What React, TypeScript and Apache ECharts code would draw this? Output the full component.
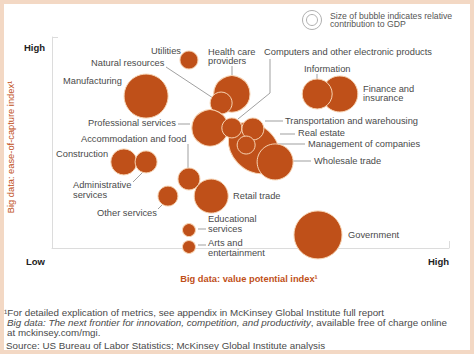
import React, { useEffect, useRef } from "react";
import * as echarts from "echarts";

// ---- Data ----
// x: value potential index (0 = Low, 100 = High)
// y: ease-of-capture index (0 = Low, 100 = High)
// gdpContribution: relative contribution to GDP (bubble area, relative units)
const categories = [
  "Manufacturing",
  "Utilities",
  "Health care providers",
  "Natural resources",
  "Finance and insurance",
  "Information",
  "Professional services",
  "Real estate",
  "Computers and other electronic products",
  "Transportation and warehousing",
  "Management of companies",
  "Wholesale trade",
  "Construction",
  "Administrative services",
  "Accommodation and food",
  "Other services",
  "Retail trade",
  "Educational services",
  "Arts and entertainment",
  "Government",
];
const valuePotential = [23.7, 34.5, 45.3, 42.6, 72.5, 66.8, 39.8, 50.9, 45.3, 50.6, 48.9, 56.2, 18.1, 23.7, 34.5, 29.2, 40.1, 34.5, 34.5, 67.0];
const easeOfCapture = [72.0, 89.1, 73.0, 68.7, 73.0, 73.0, 56.9, 47.4, 56.9, 56.4, 48.8, 40.8, 40.8, 40.8, 32.7, 24.6, 24.6, 8.5, 0.5, 6.2];
const gdpContribution = [484, 81, 330, 121, 324, 225, 330, 640, 100, 121, 81, 324, 169, 121, 121, 100, 289, 42, 42, 576];

const FONT = '"Liberation Sans", Arial, Helvetica, sans-serif';
const TXT = "#4a4a4a";
const ORANGE = "#bf5019";
const LEADER = "#777";

function label(text: string, x: number, y: number, extra: any = {}) {
  return {
    type: "text",
    x,
    y,
    silent: true,
    style: {
      text,
      fill: TXT,
      fontSize: 9.3,
      fontFamily: FONT,
      align: "left",
      verticalAlign: "middle",
      lineHeight: 9.5,
      ...extra,
    },
  };
}
function lead(points: number[][]) {
  return {
    type: "polyline",
    silent: true,
    shape: { points },
    style: { stroke: LEADER, lineWidth: 0.7, fill: null },
  };
}

export default function App() {
  const ref = useRef<HTMLDivElement>(null);
  useEffect(() => {
    if (!ref.current) return;
    const chart = echarts.init(ref.current, null, { renderer: "svg" });

    const data = categories.map((name, i) => {
      const d = 2 * Math.sqrt(gdpContribution[i]);
      const item: any = { name, value: [valuePotential[i], easeOfCapture[i]], symbolSize: d };
      if (name === "Real estate") {
        item.symbolSize = [d * 1.14, d / 1.14];
        item.symbolRotate = -45;
      }
      return item;
    });

    const FN = 9.8;
    const graphic: any[] = [
      // peach frame
      {
        type: "rect",
        silent: true,
        shape: { x: 0, y: 0, width: 474, height: 354 },
        style: { fill: null, stroke: "#f3d8c4", lineWidth: 8 },
        z: 100,
      },
      // axis end caps
      { type: "line", silent: true, shape: { x1: 52, y1: 37.5, x2: 58, y2: 37.5 }, style: { stroke: "#dcdcdc", lineWidth: 1 } },
      { type: "line", silent: true, shape: { x1: 449.5, y1: 248, x2: 449.5, y2: 241 }, style: { stroke: "#dcdcdc", lineWidth: 1 } },
      // legend
      { type: "circle", silent: true, shape: { cx: 312, cy: 20, r: 9.5 }, style: { fill: null, stroke: "#9a9a9a", lineWidth: 0.8 } },
      { type: "circle", silent: true, shape: { cx: 312, cy: 20, r: 5.5 }, style: { fill: null, stroke: "#9a9a9a", lineWidth: 0.8 } },
      label("Size of bubble indicates relative\ncontribution to GDP", 330, 20, { fontSize: 8.7, lineHeight: 8.5, fill: "#555" }),
      // axis ends
      label("High", 24, 47, { fontWeight: "bold", fill: "#222", fontSize: 9.5 }),
      label("Low", 26, 261, { fontWeight: "bold", fill: "#222", fontSize: 9.5 }),
      label("High", 428, 261, { fontWeight: "bold", fill: "#222", fontSize: 9.5 }),
      // axis titles
      label("Big data: value potential index\u00b9", 249, 279, { fontWeight: "bold", fill: ORANGE, align: "center" }),
      {
        type: "text",
        silent: true,
        x: 11,
        y: 147,
        rotation: Math.PI / 2,
        style: {
          text: "Big data: ease-of-capture index\u00b9",
          fill: ORANGE,
          fontSize: 9.3,
          fontFamily: FONT,
          align: "center",
          verticalAlign: "middle",
        },
      },
      // bubble labels
      label("Utilities", 181, 51, { align: "right" }),
      label("Health care\nproviders", 208, 56.5),
      lead([[232, 66], [232, 76]]),
      label("Computers and other electronic products", 264, 52),
      lead([[270, 59], [270, 93], [238, 119]]),
      label("Natural resources", 91, 63),
      lead([[166, 67], [213, 98]]),
      label("Manufacturing", 63, 81),
      label("Information", 304, 69),
      lead([[317, 74], [317, 80]]),
      label("Finance and\ninsurance", 363, 93.5),
      label("Professional services", 88, 123),
      lead([[178, 124], [190, 124]]),
      label("Transportation and warehousing", 285, 121),
      lead([[265, 121], [283, 121]]),
      label("Real estate", 298, 133),
      lead([[280, 134], [295, 134]]),
      label("Management of companies", 308, 144),
      lead([[256, 144], [305, 144]]),
      label("Wholesale trade", 314, 161),
      lead([[293, 161], [311, 161]]),
      label("Accommodation and food", 81, 139),
      lead([[188, 144], [188, 169]]),
      label("Construction", 56, 154),
      label("Administrative\nservices", 73, 190),
      lead([[133, 182], [143, 172]]),
      label("Other services", 97, 213),
      lead([[158, 209], [163, 204]]),
      label("Retail trade", 233, 196),
      label("Educational\nservices", 208, 224),
      lead([[198, 229], [206, 229]]),
      label("Arts and\nentertainment", 208, 248),
      lead([[198, 245], [206, 245]]),
      label("Government", 348, 235),
      // footnotes
      label("\u00b9For detailed explication of metrics, see appendix in McKinsey Global Institute full report", 4, 312, { fontSize: FN }),
      {
        type: "text",
        silent: true,
        x: 7,
        y: 322,
        style: {
          text: "{i|Big data: The next frontier for innovation, competition, and productivity}{n|, available free of charge online}",
          verticalAlign: "middle",
          fontFamily: FONT,
          fontSize: FN,
          fill: TXT,
          rich: {
            i: { fontStyle: "italic", fontSize: FN, fontFamily: FONT, fill: TXT },
            n: { fontSize: FN, fontFamily: FONT, fill: TXT },
          },
        },
      },
      label("at mckinsey.com/mgi.", 7, 332, { fontSize: FN }),
      label("Source: US Bureau of Labor Statistics; McKinsey Global Institute analysis", 6, 345, { fontSize: FN }),
    ];

    chart.setOption({
      animation: false,
      backgroundColor: "#ffffff",
      grid: { left: 52, right: 25, top: 37, bottom: 106 },
      xAxis: {
        type: "value",
        min: 0,
        max: 100,
        axisLine: { show: true, lineStyle: { color: "#dcdcdc", width: 1 } },
        axisTick: { show: false },
        axisLabel: { show: false },
        splitLine: { show: false },
      },
      yAxis: {
        type: "value",
        min: 0,
        max: 100,
        axisLine: { show: true, lineStyle: { color: "#dcdcdc", width: 1 } },
        axisTick: { show: false },
        axisLabel: { show: false },
        splitLine: { show: false },
      },
      series: [
        {
          type: "scatter",
          data,
          clip: false,
          itemStyle: { color: ORANGE, opacity: 1, borderColor: "#f7d3b2", borderWidth: 1 },
          emphasis: { disabled: true },
        },
      ],
      graphic,
    });
    return () => chart.dispose();
  }, []);
  return (
    <div
      ref={ref}
      style={{ position: "fixed", left: 0, top: 0, width: 474, height: 354 }}
    />
  );
}
